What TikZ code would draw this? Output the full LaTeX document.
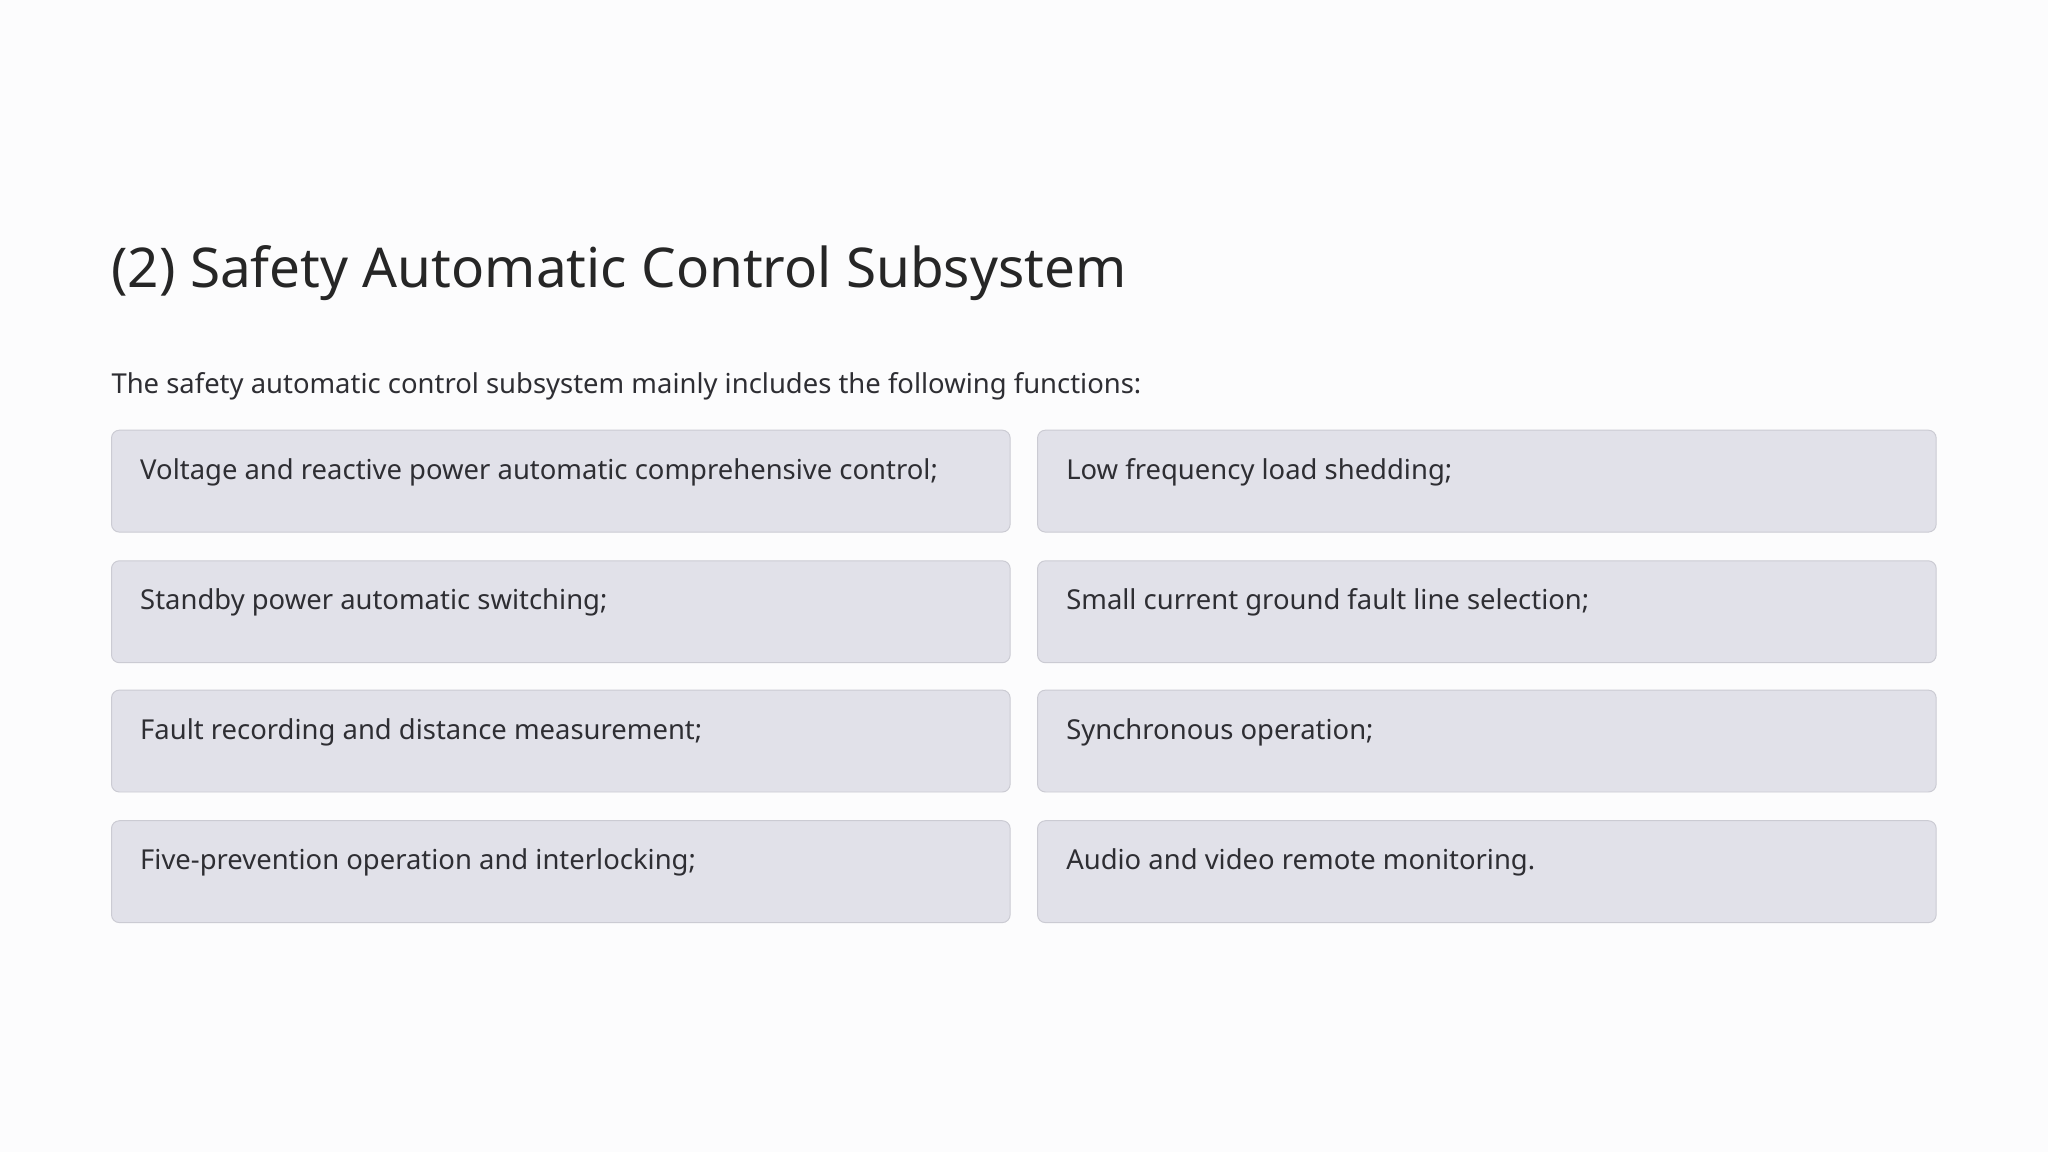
\documentclass[tikz,border=0pt]{standalone}
\usepackage{fontspec}
\setmainfont{Noto Sans}
\definecolor{pagebg}{HTML}{FCFCFD}
\definecolor{boxfill}{HTML}{E1E1E9}
\definecolor{boxline}{HTML}{CBCBD3}
\definecolor{inktext}{HTML}{2E2E33}
\tikzset{every picture/.style={line width=0.75pt}}
\tikzset{
  itembox/.style={draw=boxline,fill=boxfill,rounded corners=6pt,minimum width=688pt,minimum height=78pt,anchor=north west,inner sep=0pt},
  itemtext/.style={anchor=west,inner sep=0pt,text=inktext,font=\fontsize{21}{25}\selectfont}
}
\begin{document}
\begin{tikzpicture}[x=1pt,y=1pt,yscale=-1,xscale=1]
	%background
	\fill[pagebg] (0,0) rectangle (1568,882);
	\useasboundingbox (0,0) rectangle (1568,882);
	
	% Title
	\node (title) [anchor=west,inner sep=0pt,text=black!85,font=\fontsize{42}{50}\selectfont] at (85,209) {(2) Safety Automatic Control Subsystem};
	% Intro
	\node (intro) [anchor=west,inner sep=0pt,text=inktext,font=\fontsize{21}{25}\selectfont] at (85,296) {The safety automatic control subsystem mainly includes the following functions:};
	
	%Boxes, left column
	\node (vq) [itembox] at (85,329) {};
	\node (bz) [itembox] at (85,429) {};
	\node (fr) [itembox] at (85,528) {};
	\node (wf) [itembox] at (85,628) {};
	%Boxes, right column
	\node (lf) [itembox] at (794,329) {};
	\node (gf) [itembox] at (794,429) {};
	\node (so) [itembox] at (794,528) {};
	\node (av) [itembox] at (794,628) {};
	
	% Text Nodes
	\node [itemtext] at ([xshift=22pt,yshift=-7pt]vq.west) {Voltage and reactive power automatic comprehensive control;};
	\node [itemtext] at ([xshift=22pt,yshift=-7pt]bz.west) {Standby power automatic switching;};
	\node [itemtext] at ([xshift=22pt,yshift=-7pt]fr.west) {Fault recording and distance measurement;};
	\node [itemtext] at ([xshift=22pt,yshift=-7pt]wf.west) {Five-prevention operation and interlocking;};
	\node [itemtext] at ([xshift=22pt,yshift=-7pt]lf.west) {Low frequency load shedding;};
	\node [itemtext] at ([xshift=22pt,yshift=-7pt]gf.west) {Small current ground fault line selection;};
	\node [itemtext] at ([xshift=22pt,yshift=-7pt]so.west) {Synchronous operation;};
	\node [itemtext] at ([xshift=22pt,yshift=-7pt]av.west) {Audio and video remote monitoring.};
	
\end{tikzpicture}
\end{document}
